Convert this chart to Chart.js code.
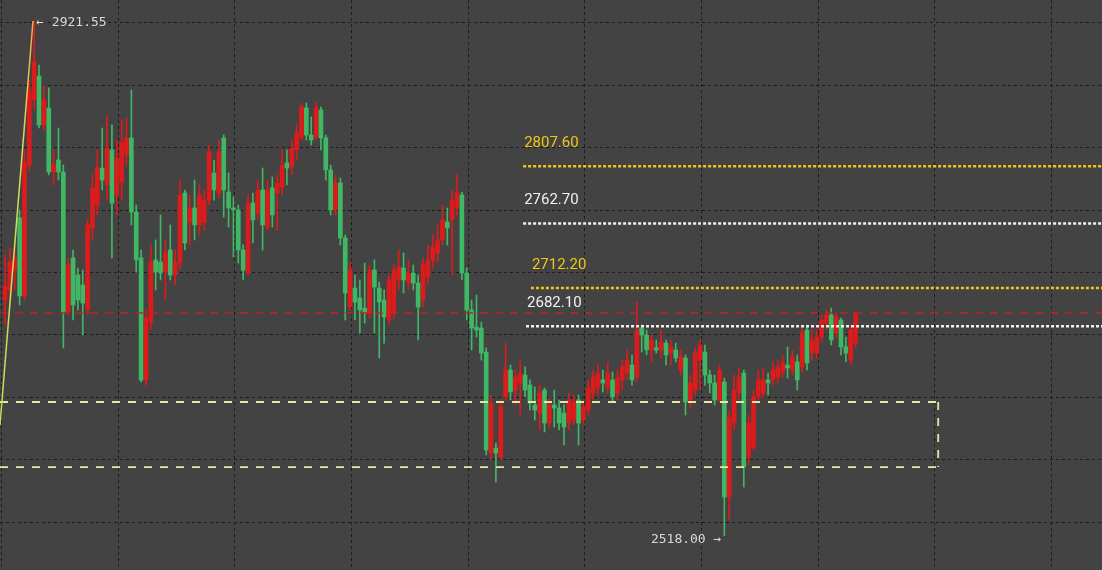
<!DOCTYPE html>
<html>
<head>
<meta charset="utf-8">
<style>
html,body{margin:0;padding:0;background:#434343;overflow:hidden;}
#wrap{width:1102px;height:570px;position:relative;}
</style>
<script src="https://cdn.jsdelivr.net/npm/chart.js@4/dist/chart.umd.min.js"></script>
</head>
<body>
<div id="wrap"><canvas id="c" width="1102" height="570"></canvas></div>
<script>
// ---- data (prices) ----
const opens = [
2702.7,2710.6,2726.2,2767.1,2705.9,2808.6,2859.6,2878.4,2840.0,2853.3,
2803.1,2812.5,2803.1,2693.3,2735.8,2722.3,2714.5,2694.9,2759.2,2777.2,
2806.2,2792.9,2820.4,2785.1,2795.2,2816.5,2829.8,2771.7,2735.8,2640.0,
2685.4,2734.1,2732.5,2724.6,2741.9,2722.3,2731.7,2786.6,2763.9,2774.9,
2761.6,2763.9,2781.1,2802.3,2786.6,2829.8,2787.4,2774.9,2773.3,2741.9,
2723.9,2778.7,2770.9,2789.0,2760.0,2790.6,2786.6,2791.3,2810.2,2807.0,
2820.4,2830.5,2853.3,2832.1,2830.5,2851.7,2829.8,2804.7,2773.3,2794.5,
2751.4,2697.2,2712.1,2704.3,2696.4,2692.5,2726.2,2712.1,2702.7,2687.0,
2692.5,2718.4,2727.8,2716.0,2723.9,2716.0,2702.7,2720.8,2734.1,2739.6,
2749.8,2763.9,2765.5,2775.6,2785.1,2723.9,2694.9,2681.5,2680.7,2661.9,
2582.7,2586.6,2579.6,2626.7,2647.8,2632.1,2637.6,2643.9,2636.0,2620.4,
2614.1,2632.1,2606.2,2620.4,2618.0,2614.1,2606.2,2608.6,2624.3,2608.6,
2616.4,2629.8,2634.5,2640.0,2634.5,2640.0,2629.8,2640.0,2645.4,2651.7,
2642.3,2680.7,2675.3,2663.5,2665.1,2663.5,2668.9,2661.1,2663.5,2647.8,
2657.2,2624.3,2632.1,2655.6,2661.9,2643.9,2637.6,2624.3,2638.4,2548.2,
2606.2,2629.8,2645.4,2579.6,2587.4,2626.7,2629.8,2640.0,2640.0,2642.3,
2646.2,2651.7,2647.8,2654.1,2650.2,2679.2,2661.1,2661.1,2673.7,2684.6,
2691.0,2676.8,2687.0,2665.9,2655.6,2668.9
];
const closes = [
2713.7,2732.5,2735.8,2705.9,2810.9,2867.4,2889.3,2840.0,2859.6,2803.1,
2808.6,2803.1,2693.3,2730.2,2698.8,2702.7,2700.3,2761.6,2790.6,2806.2,
2796.8,2821.9,2778.7,2814.1,2826.6,2829.8,2771.7,2734.1,2640.0,2688.6,
2732.5,2724.6,2723.9,2740.4,2722.3,2732.5,2785.1,2747.4,2774.9,2761.6,
2785.1,2781.1,2818.8,2789.0,2818.8,2789.0,2774.9,2773.3,2741.9,2726.2,
2778.7,2765.5,2789.0,2761.6,2789.0,2769.4,2794.5,2808.6,2806.2,2821.9,
2833.6,2854.1,2832.1,2828.2,2853.3,2829.8,2804.7,2773.3,2794.5,2751.4,
2708.2,2726.2,2701.1,2694.9,2692.5,2726.2,2712.9,2701.1,2689.4,2718.4,
2726.2,2728.6,2718.4,2723.9,2716.0,2697.2,2730.2,2734.1,2744.3,2749.8,
2765.5,2759.2,2781.1,2786.6,2723.9,2694.9,2680.7,2679.2,2661.1,2585.1,
2621.9,2582.7,2618.8,2647.8,2630.6,2642.3,2645.4,2632.1,2621.9,2616.4,
2629.8,2606.2,2620.4,2618.0,2606.2,2603.1,2624.3,2622.7,2606.2,2618.8,
2633.7,2642.3,2645.4,2637.6,2645.4,2626.7,2641.5,2650.2,2655.6,2640.0,
2679.2,2675.3,2663.5,2671.3,2663.5,2669.8,2659.6,2665.9,2657.2,2658.0,
2622.7,2637.6,2661.1,2667.4,2643.9,2637.6,2624.3,2647.8,2548.2,2610.9,
2632.1,2642.3,2571.7,2606.2,2626.7,2640.0,2640.0,2637.6,2647.8,2650.2,
2653.3,2649.4,2658.0,2640.0,2676.8,2653.3,2671.3,2673.7,2687.0,2691.0,
2671.3,2689.4,2665.9,2661.1,2679.2,2692.5
];
const highs = [
2738.0,2743.5,2745.9,2773.3,2820.4,2875.3,2921.55,2887.0,2871.3,2869.0,
2820.4,2837.6,2808.6,2735.8,2741.9,2727.8,2726.2,2765.5,2800.8,2820.4,
2837.6,2847.8,2840.0,2828.2,2843.9,2845.5,2867.4,2777.2,2741.9,2694.9,
2745.9,2749.8,2769.4,2749.8,2761.6,2741.9,2796.8,2789.0,2785.1,2796.8,
2792.9,2789.0,2824.3,2812.5,2828.2,2832.1,2802.3,2783.5,2777.2,2745.9,
2785.1,2786.6,2796.8,2806.2,2796.8,2799.2,2800.8,2820.4,2820.4,2828.2,
2840.0,2857.2,2857.2,2846.3,2858.0,2854.1,2832.1,2808.6,2800.8,2798.4,
2753.7,2732.5,2722.3,2718.4,2731.7,2730.2,2734.1,2716.8,2710.6,2722.3,
2730.2,2741.9,2739.6,2734.1,2730.2,2722.3,2735.8,2745.9,2753.7,2761.6,
2777.2,2774.9,2789.0,2800.8,2787.4,2727.8,2702.7,2706.6,2685.4,2665.1,
2628.2,2590.6,2624.3,2669.0,2651.7,2647.8,2655.6,2650.2,2640.0,2634.5,
2636.0,2633.7,2625.9,2632.1,2624.3,2620.4,2629.8,2628.2,2628.2,2624.3,
2640.0,2647.8,2651.7,2647.8,2654.1,2646.2,2647.8,2655.6,2663.5,2659.6,
2701.1,2683.1,2679.2,2675.3,2671.3,2679.2,2671.3,2671.3,2668.9,2663.5,
2659.6,2643.9,2665.1,2671.3,2667.4,2647.8,2643.9,2651.7,2641.5,2616.4,
2643.9,2649.4,2647.8,2612.5,2632.1,2647.8,2649.4,2645.4,2654.1,2655.6,
2659.6,2665.9,2663.5,2659.6,2683.1,2683.1,2679.2,2679.2,2691.0,2694.9,
2696.4,2693.3,2688.6,2673.7,2683.1,2693.3
];
const lows = [
2683.1,2698.8,2710.6,2698.8,2702.7,2804.7,2851.7,2837.6,2836.0,2800.8,
2792.9,2796.8,2665.1,2691.0,2687.0,2694.9,2675.3,2691.0,2749.8,2769.4,
2789.0,2781.1,2735.8,2769.4,2781.1,2808.6,2761.6,2724.6,2638.4,2636.0,
2679.2,2710.6,2718.4,2702.7,2718.4,2714.5,2726.2,2741.9,2745.9,2749.8,
2753.7,2757.6,2777.2,2781.1,2782.7,2767.8,2760.0,2736.5,2731.7,2718.4,
2722.3,2747.4,2765.5,2741.9,2757.6,2760.0,2757.6,2785.1,2792.9,2800.8,
2812.5,2828.2,2828.2,2824.3,2828.2,2820.4,2796.8,2769.4,2769.4,2745.9,
2687.0,2694.9,2687.0,2676.8,2684.6,2688.6,2676.8,2657.2,2668.9,2683.1,
2688.6,2710.6,2708.2,2710.6,2710.6,2671.3,2697.2,2714.5,2727.8,2732.5,
2745.9,2745.9,2722.3,2769.4,2718.4,2687.0,2663.5,2673.7,2655.6,2581.2,
2577.2,2560.0,2577.2,2624.3,2624.3,2620.4,2612.5,2626.7,2616.4,2608.6,
2600.8,2599.2,2602.3,2603.1,2600.8,2589.0,2600.8,2604.7,2589.0,2604.7,
2612.5,2624.3,2628.2,2630.6,2629.8,2622.7,2624.3,2632.1,2640.0,2636.0,
2638.4,2661.9,2659.6,2654.1,2661.1,2657.2,2651.7,2651.7,2654.1,2643.9,
2612.5,2618.0,2628.2,2632.1,2636.0,2629.8,2620.4,2622.7,2518.00,2530.2,
2600.8,2624.3,2556.0,2573.3,2585.1,2624.3,2625.9,2628.2,2636.0,2637.6,
2641.5,2641.5,2643.9,2632.1,2646.2,2647.8,2655.6,2657.2,2669.8,2679.2,
2667.4,2672.9,2659.6,2654.1,2651.7,2665.1
];
// horizontal levels drawn by the trader
const levelValues = [2807.60, 2762.70, 2712.20, 2682.10];
const levelLabels = ['2807.60', '2762.70', '2712.20', '2682.10'];
const levelStartBar = [106.6, 106.6, 108.2, 107.2];
// support zone
const zonePrices = [2622.7, 2571.7];
const zoneEndBar = 192;
// trend line (bar index, price)
const trendBars = [-1.03, 5.76];
const trendPrices = [2604.7, 2921.55];

// ---- styles ----
const UP = '#de1b1b', DOWN = '#3fb865';
const colorOf = i => closes[i] >= opens[i] ? UP : DOWN;
const barColors = opens.map((o, i) => colorOf(i));
const N = opens.length;
const X_MIN = -1.03, X_MAX = 225.7, Y_MIN = 2490.94, Y_MAX = 2938.0;

const overlay = {
  id: 'overlay',
  beforeDraw(chart) {
    const c = chart.ctx;
    c.save(); c.fillStyle = '#434343'; c.fillRect(0, 0, chart.width, chart.height); c.restore();
  },
  afterDatasetsDraw(chart) {
    const c = chart.ctx, xs = chart.scales.x, ys = chart.scales.y;
    const W = chart.width;
    c.save();
    // support zone
    const zx0 = xs.getPixelForValue(X_MIN), zx1 = xs.getPixelForValue(zoneEndBar);
    const zy0 = ys.getPixelForValue(zonePrices[0]), zy1 = ys.getPixelForValue(zonePrices[1]);
    c.strokeStyle = '#e8e6a2'; c.lineWidth = 1.8; c.setLineDash([8, 8]);
    c.beginPath(); c.moveTo(zx0, zy0); c.lineTo(zx1, zy0); c.stroke();
    c.beginPath(); c.moveTo(zx0, zy1); c.lineTo(zx1, zy1); c.stroke();
    c.beginPath(); c.moveTo(zx1, zy0); c.lineTo(zx1, zy1); c.stroke();
    // last price line
    const ly = ys.getPixelForValue(closes[N - 1]);
    c.strokeStyle = '#be2626'; c.lineWidth = 1.5; c.setLineDash([8, 7]);
    c.beginPath(); c.moveTo(0, ly); c.lineTo(W, ly); c.stroke();
    // levels
    c.font = '15px Roboto'; c.textBaseline = 'middle'; c.textAlign = 'left';
    levelValues.forEach((v, k) => {
      const col = (k % 2 === 0) ? '#f0c814' : '#f2f2f2';
      const py = ys.getPixelForValue(v), px = xs.getPixelForValue(levelStartBar[k]);
      c.strokeStyle = col; c.lineWidth = 2.5; c.setLineDash([3, 2]);
      c.beginPath(); c.moveTo(px, py); c.lineTo(W, py); c.stroke();
      c.fillStyle = col;
      c.fillText(levelLabels[k], px + 1, py - 23);
    });
    // trend line
    c.setLineDash([]);
    const tx0 = xs.getPixelForValue(trendBars[0]), ty0 = ys.getPixelForValue(trendPrices[0]);
    const tx1 = xs.getPixelForValue(trendBars[1]), ty1 = ys.getPixelForValue(trendPrices[1]);
    const g = c.createLinearGradient(tx0, ty0, tx1, ty1);
    g.addColorStop(0, '#c6dc5a'); g.addColorStop(0.7, '#d8dc5a'); g.addColorStop(1, '#eea848');
    c.strokeStyle = g; c.lineWidth = 1.5;
    c.beginPath(); c.moveTo(tx0, ty0); c.lineTo(tx1, ty1); c.stroke();
    // extreme labels
    let hi = 0, lo = 0;
    for (let i = 1; i < N; i++) { if (highs[i] > highs[hi]) hi = i; if (lows[i] < lows[lo]) lo = i; }
    c.font = '13px "DejaVu Sans Mono"'; c.fillStyle = '#dadada';
    c.textAlign = 'left';
    c.fillText('\u2190 ' + highs[hi].toFixed(2), xs.getPixelForValue(hi) + 2, ys.getPixelForValue(highs[hi]) + 2);
    c.textAlign = 'right';
    c.fillText(lows[lo].toFixed(2) + ' \u2192', xs.getPixelForValue(lo) - 3, ys.getPixelForValue(lows[lo]) + 4);
    c.restore();
  }
};

const gridStyle = { color: '#1c1c1c', lineWidth: 1, drawTicks: false, tickLength: 0, offset: false };

new Chart(document.getElementById('c'), {
  type: 'bar',
  data: {
    datasets: [
      {
        label: 'body',
        data: opens.map((o, i) => ({ x: i, y: [o, closes[i]] })),
        backgroundColor: barColors,
        borderWidth: 0,
        barThickness: 4,
        minBarLength: 1.5,
        grouped: false,
        order: 0
      },
      {
        label: 'wick',
        data: highs.map((h, i) => ({ x: i, y: [lows[i], h] })),
        backgroundColor: barColors,
        borderWidth: 0,
        barThickness: 1,
        grouped: false,
        order: 1
      }
    ]
  },
  options: {
    responsive: false,
    animation: false,
    devicePixelRatio: 1,
    layout: { padding: 0 },
    plugins: { legend: { display: false }, tooltip: { enabled: false } },
    scales: {
      x: {
        type: 'linear', min: X_MIN, max: X_MAX, offset: false,
        ticks: { display: false },
        grid: gridStyle,
        border: { display: false, dash: [3, 3] },
        afterBuildTicks: s => { const t = []; for (let k = 0; k < 10; k++) t.push({ value: -0.72 + 24 * k }); s.ticks = t; }
      },
      y: {
        type: 'linear', min: Y_MIN, max: Y_MAX, beginAtZero: false,
        ticks: { display: false },
        grid: gridStyle,
        border: { display: false, dash: [3, 3] },
        afterBuildTicks: s => { const t = []; for (let k = 0; k < 10; k++) t.push({ value: 2920.0 - 48.94 * k }); s.ticks = t; }
      }
    }
  },
  plugins: [overlay]
});
</script>
</body>
</html>
